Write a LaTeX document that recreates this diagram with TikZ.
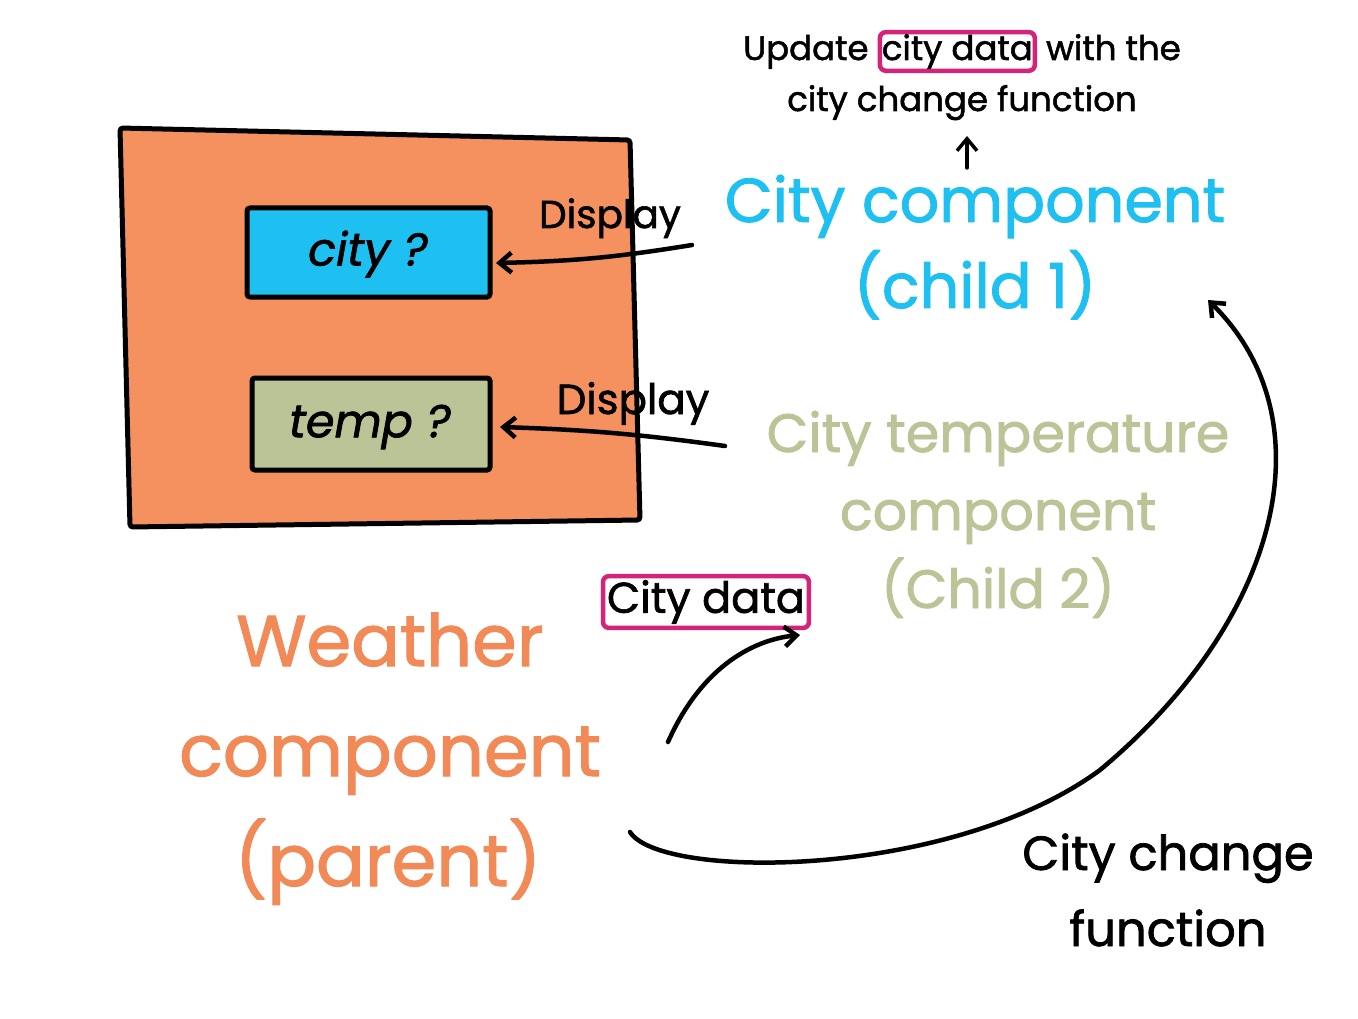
\documentclass[tikz,border=0pt]{standalone}
\usepackage{fontspec}
\setmainfont{Poppins}[FakeBold=1.5]
\usetikzlibrary{arrows.meta}
\definecolor{org}{HTML}{F4915E}
\definecolor{orgt}{HTML}{F28A58}
\definecolor{blu}{HTML}{1EC0F2}
\definecolor{grn}{HTML}{BBC496}
\definecolor{mag}{HTML}{D6237A}
\tikzset{
 box/.style={draw=black,line width=5pt,rounded corners=3pt},
 arr/.style={line width=4.5pt,-{Straight Barb[length=12pt,width=20pt]},line cap=round},
 hl/.style={draw=mag,line width=4.5pt,rounded corners=6pt,inner sep=3pt},
 fs/.style={font=\fontsize{#1}{#1}\selectfont,inner sep=0pt,anchor=base}
}
\begin{document}
\begin{tikzpicture}[x=1pt,y=-1pt]
\useasboundingbox (0,0) rectangle (1358,1019);
\fill[white] (0,0) rectangle (1358,1019);
\draw[box,fill=org] (120,128) -- (630,140) -- (640,520) -- (130,527) -- cycle;
\draw[box,fill=blu] (247,208) rectangle (490,297);
\node[font=\itshape\fontsize{46}{46}\selectfont] (city) at (368,254) {city ?};
\draw[box,fill=grn] (252,378) rectangle (490,470);
\node[font=\itshape\fontsize{46}{46}\selectfont] (temp) at (370,427) {temp ?};
\node[fs=39] (d1) at (610,228) {Display};
\node[fs=42] (d2) at (633,414) {Display};
\coordinate (a1) at (692,245); \coordinate (b1) at (496,263);
\draw[arr] (a1) to[bend left=4] (b1);
\coordinate (a2) at (725,446); \coordinate (b2) at (500,427);
\draw[arr] (a2) to[bend right=3] (b2);
\node[fs=62,text=blu] (c1) at (975,222) {City component};
\node[fs=62,text=blu] (c1b) at (975,308) {(child 1)};
\node[fs=54,text=grn] (c2) at (998,452) {City temperature};
\node[fs=54,text=grn] (c2b) at (998,530) {component};
\node[fs=54,text=grn] (c2c) at (998,608) {(Child 2)};
\node[fs=72,text=orgt] (w1) at (390,666) {Weather};
\node[fs=72,text=orgt] (w2) at (390,776) {component};
\node[fs=72,text=orgt] (w3) at (388,886) {(parent)};
\node[fs=34] (u1) at (962,60) {Update \tikz[baseline=(x.base)]\node[hl,inner sep=2pt](x){city data}; with the};
\node[fs=34] (u2) at (962,111) {city change function};
\coordinate (ua) at (967,168); \coordinate (ub) at (967,136);
\draw[arr,line width=3.5pt] (ua) -- (ub);
\node[hl,font=\fontsize{43}{43}\selectfont,inner sep=4pt] (cd) at (706,602) {City data};
\coordinate (ca) at (668,742); \coordinate (cb) at (800,635);
\draw[arr] (ca) .. controls (700,670) and (750,640) .. (cb);
\node[fs=48] (f1) at (1168,870) {City change};
\node[fs=48] (f2) at (1168,946) {function};
\coordinate (fa) at (630,832); \coordinate (fb) at (1208,300);
\draw[arr] (fa) .. controls (660,880) and (950,880) .. (1100,770) .. controls (1280,620) and (1330,420) .. (fb);
\end{tikzpicture}
\end{document}
